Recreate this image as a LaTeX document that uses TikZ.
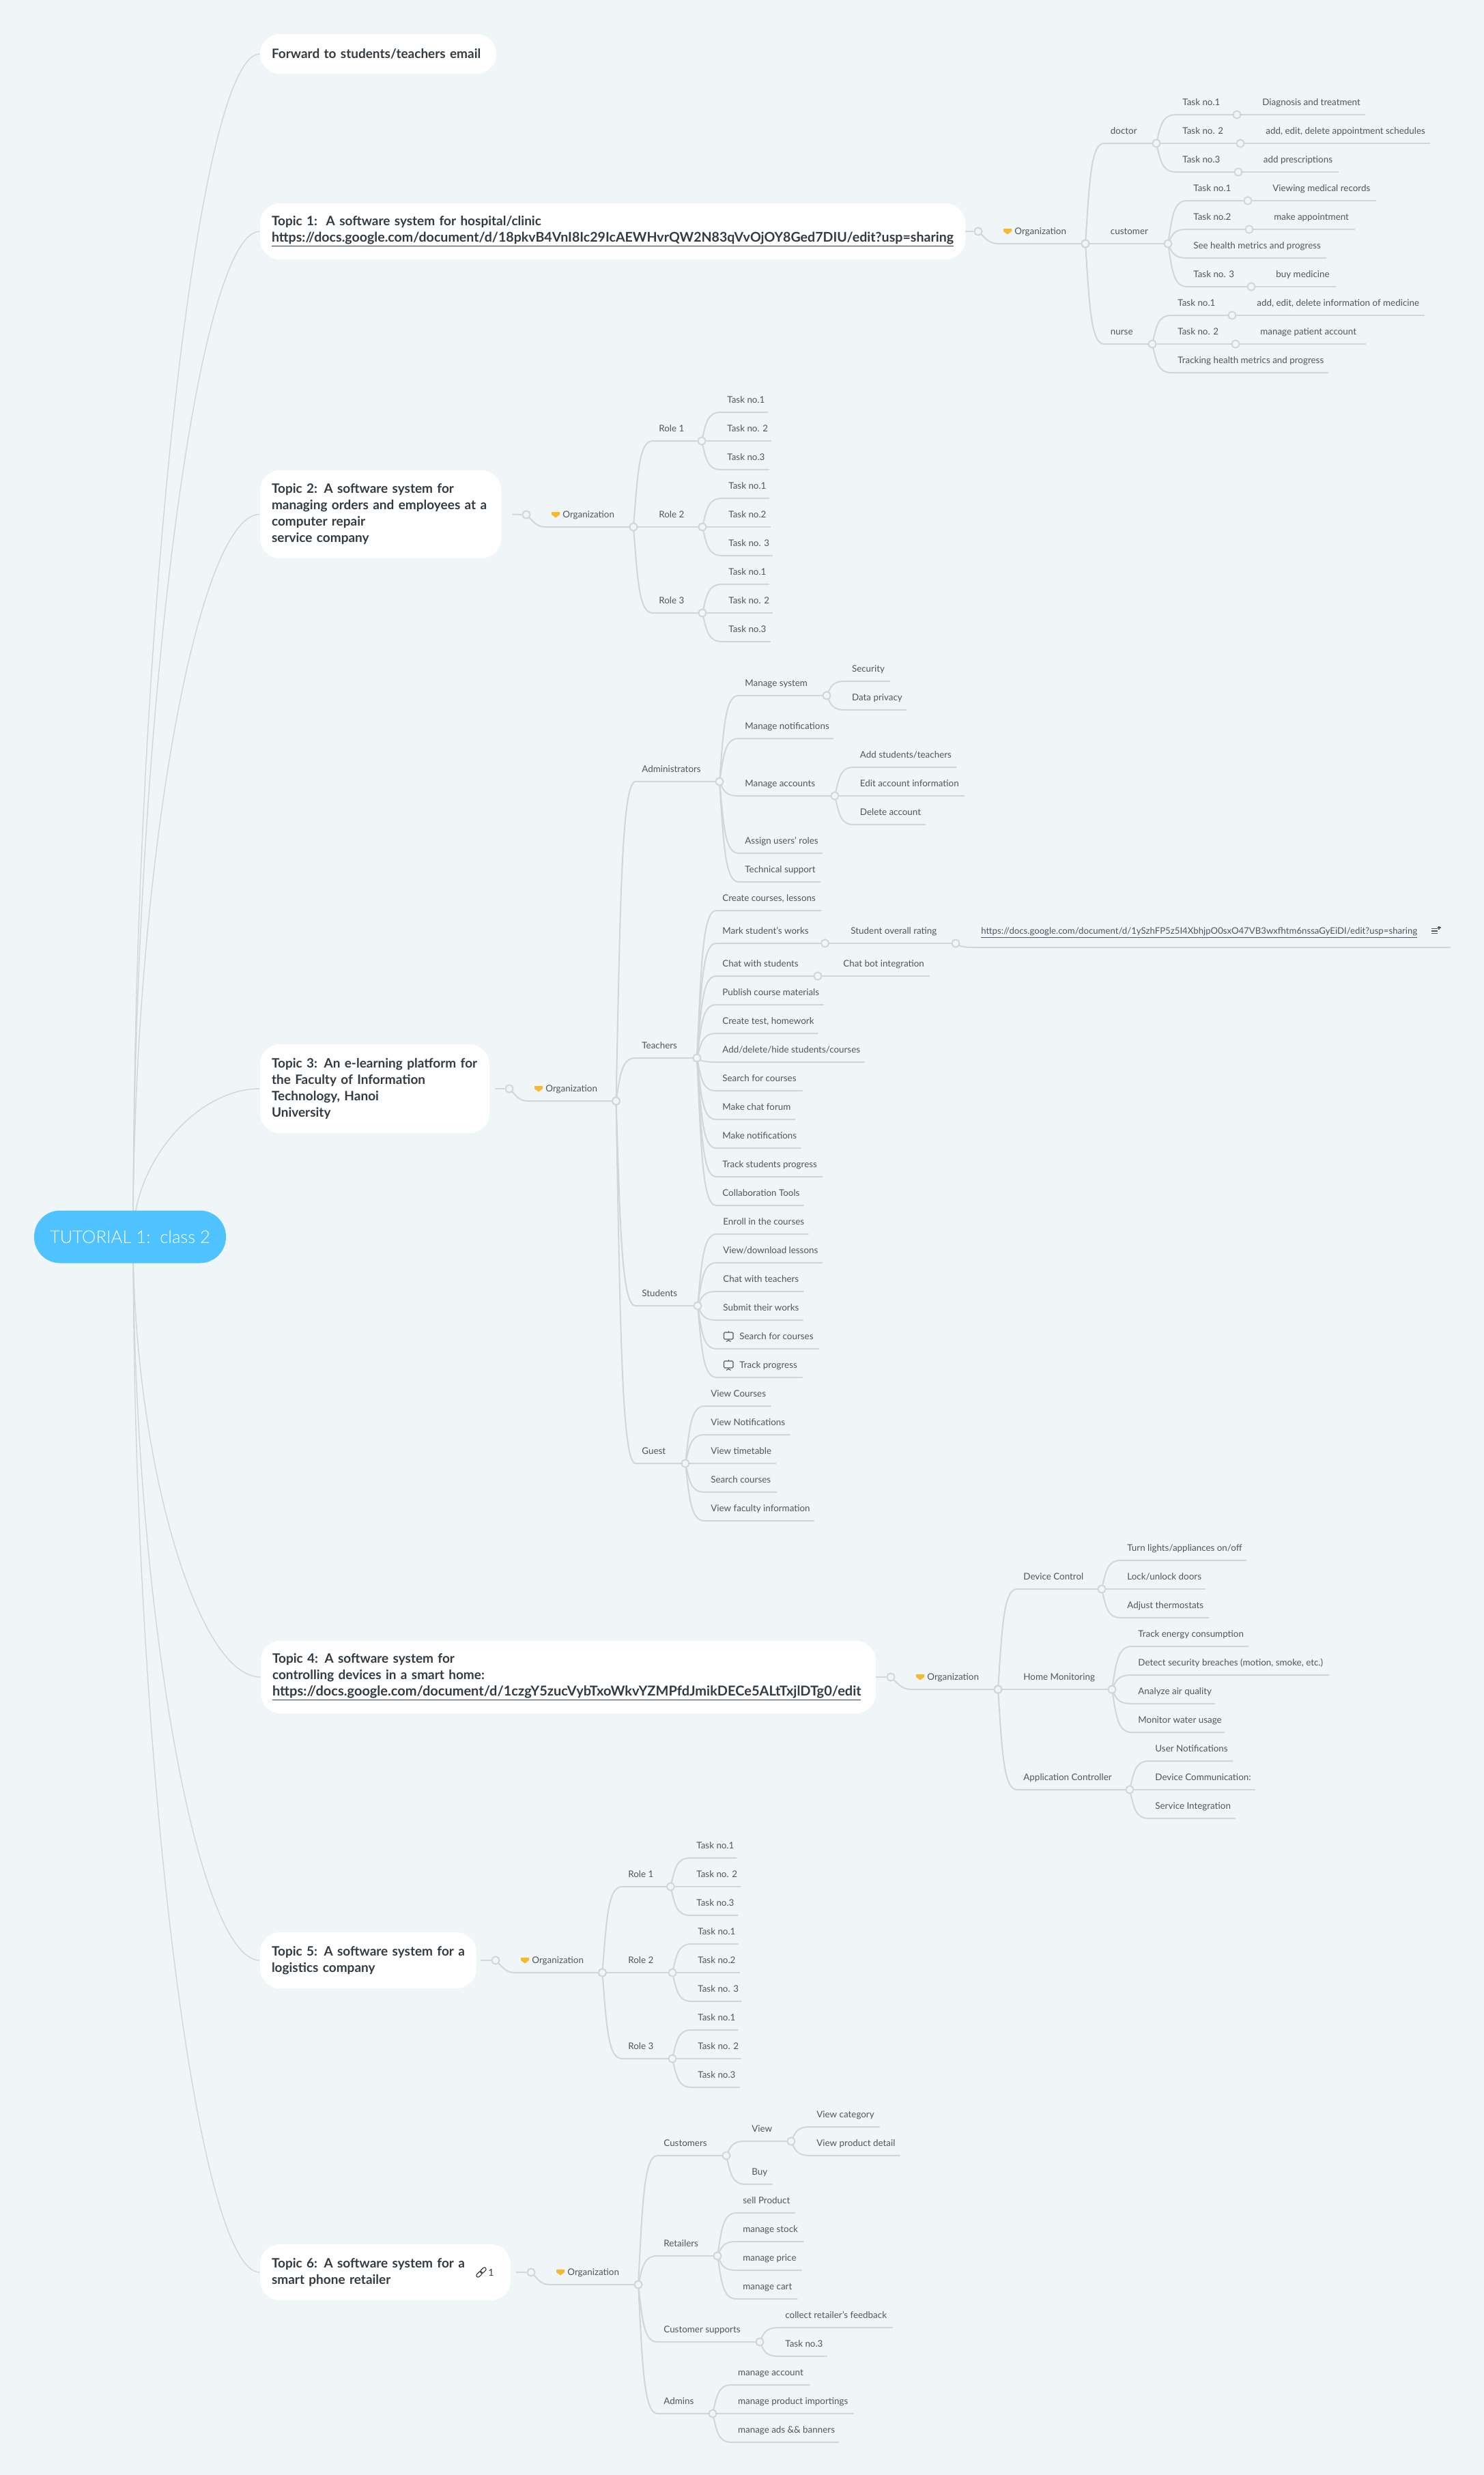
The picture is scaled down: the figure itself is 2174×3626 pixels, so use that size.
\documentclass[tikz,border=0pt]{standalone}
\usepackage{fontspec}
\setmainfont{Lato}
\newfontfamily\rootfont{Lato Light}
\usetikzlibrary{calc,backgrounds}

\definecolor{pagebg}{HTML}{F0F5F8}
\definecolor{linegray}{HTML}{D2D6D9}
\definecolor{inkgray}{HTML}{4F565C}
\definecolor{inkdark}{HTML}{333B42}
\definecolor{rootblue}{HTML}{4FC3FF}
\definecolor{medalgold}{HTML}{F6B92F}

\tikzset{
	link/.style={draw=linegray,line width=1pt},
	spoke/.style={draw=linegray,line width=.7pt},
	knob/.style={circle,draw=linegray,fill=pagebg,line width=1pt,minimum size=5.6pt,inner sep=0pt},
	itemtext/.style={inner sep=0pt,text=inkgray,font=\fontsize{6.7}{8}\selectfont},
	topicbox/.style={fill=white,rounded corners=14.5pt,inner xsep=8.5pt,inner ysep=0pt,align=left,text=inkdark,font=\fontsize{9.5}{12}\bfseries\selectfont},
	rootbox/.style={fill=rootblue,rounded corners=19pt,text=white,inner sep=0pt,font=\fontsize{12.8}{16}\rootfont\selectfont},
	icon/.style={draw=inkgray,line width=.55pt}
}

% one row: text, line under it, curve up to the knob of its parent
\newcommand{\branch}[7][14]{%
	\node[itemtext,anchor=base west] (#2) at (#4,#5-#1) {#7};
	\coordinate (#2-s) at (#4-9,#5);
	\coordinate (#2-e) at (#6,#5);
	\begin{scope}[on background layer]
		\draw[link] (#3-k.center) .. controls ($(#3-k.center)!.6!(#3-k.center |- #2-s)+(6,0)$) and ($(#3-k.center |- #2-s)!.28!(#2-s)$) .. (#2-s) -- (#2-e);
	\end{scope}}
% same row, with a knob at the end of its line
\newcommand{\hub}[7][14]{%
	\branch[#1]{#2}{#3}{#4}{#5}{#6}{#7}
	\node[knob] (#2-k) at (#2-e) {};}
% small gold mark in front of Organization
\newcommand{\medal}[2]{%
	\fill[medalgold] (#1-6,#2-4) -- (#1+6,#2-4) -- (#1+6,#2) -- (#1,#2+4.5) -- (#1-6,#2) -- cycle;}
% Organization row: name, topic, gap, knob x, line start x, hub x, line y
\newcommand{\orgrow}[7]{%
	\node[knob] (#2-k) at (#4,#7-18) {};
	\begin{scope}[on background layer]
		\draw[link] ($(#2.east)+(#3,0)$) -- (#2-k);
		\coordinate (#1-s) at (#5,#7);
		\node[knob] (#1-k) at (#6,#7) {};
		\draw[link] (#2-k.center) .. controls ($(#2-k.center)+(9,8)$) and ($(#1-s)+(-14,0)$) .. (#1-s) -- (#1-k.center);
	\end{scope}
	\node[knob] (#1-k) at (#6,#7) {};
	\medal{#4+43}{#7-18}
	\node[itemtext,anchor=base west] (#1) at (#4+53,#7-14) {Organization};}
% little screen in front of a row
\newcommand{\screen}[2]{%
	\draw[icon,rounded corners=.7pt] (#1,#2-24) rectangle (#1+13.5,#2-14);
	\draw[icon] (#1+6.7,#2-24) -- (#1+6.7,#2-26);
	\draw[icon] (#1+3.5,#2-10.5) -- (#1+6.7,#2-12.5) -- (#1+10,#2-10.5);}

\begin{document}
\begin{tikzpicture}[x=0.5pt,y=-0.5pt]
	\useasboundingbox (0,0) rectangle (2174,3626);
	\begin{scope}[on background layer]
		\fill[pagebg] (0,0) rectangle (2174,3626);
	\end{scope}

	% Root and topics
	\node[rootbox,minimum width=140.5pt,minimum height=38.5pt] (root) at (190.5,1812) {TUTORIAL 1:\ \ class 2};
	\coordinate (rootc) at (195,1812);
	\node[topicbox,text width=156pt,minimum height=29pt] (t0) at (554,79) {Forward to students/teachers email};
	\node[topicbox,text width=499.5pt,minimum height=41pt] (t1) at (897.5,339) {Topic 1:\ \ A software system for hospital/clinic\\\fontsize{9.8}{12}\selectfont\underline{https://docs.google.com/document/d/18pkvB4VnI8Ic29IcAEWHvrQW2N83qVvOjOY8Ged7DIU/edit?usp=sharing}};
	\node[topicbox,text width=159.5pt,minimum height=64.5pt] (t2) at (557.5,753.5) {Topic 2: A software system for\\managing orders and employees at a\\computer repair\\service company};
	\node[topicbox,text width=151pt,minimum height=65pt] (t3) at (549,1595) {Topic 3: An e-learning platform for\\the Faculty of Information\\Technology, Hanoi\\University};
	\node[topicbox,text width=433.5pt,minimum height=53pt] (t4) at (832.5,2457) {Topic 4: A software system for\\controlling devices in a smart home:\\\fontsize{10}{12}\selectfont\underline{https://docs.google.com/document/d/1czgY5zucVybTxoWkvYZMPfdJmikDECe5ALtTxjlDTg0/edit}};
	\node[topicbox,text width=141.5pt,minimum height=41pt] (t5) at (539.5,2872) {Topic 5: A software system for a\\logistics company};
	\node[topicbox,text width=166.5pt,minimum height=41pt] (t6) at (564.5,3329) {Topic 6: A software system for a\\smart phone retailer};

	\foreach \t in {t0,t1,t2,t3,t4,t5,t6}{
		\coordinate (m) at ($(rootc)!.5!(\t.west)$);
		\begin{scope}[on background layer]
			\draw[spoke] (rootc) .. controls (rootc |- m) and (m |- \t.west) .. (\t.west);
		\end{scope}
	}

	% Topic 1
	\orgrow{org1}{t1}{0}{1433}{1462}{1590}{357}
	\hub{doc}{org1}{1626.5}{210}{1694}{doctor}
	\hub{doca}{doc}{1732}{168}{1812}{Task no.1}
	\branch{docaa}{doca}{1849}{168}{2000}{Diagnosis and treatment}
	\hub{docb}{doc}{1732}{210}{1817}{Task no. 2}
	\branch{docba}{docb}{1854}{210}{2095}{add, edit, delete appointment schedules}
	\hub{docc}{doc}{1732}{252}{1814}{Task no.3}
	\branch{docca}{docc}{1850.5}{252}{1961}{add prescriptions}
	\hub{cus}{org1}{1626.5}{357}{1711}{customer}
	\hub{cusa}{cus}{1748}{294}{1828}{Task no.1}
	\branch{cusaa}{cusa}{1864}{294}{2016}{Viewing medical records}
	\hub{cusb}{cus}{1748}{336}{1830}{Task no.2}
	\branch{cusba}{cusb}{1866}{336}{1985}{make appointment}
	\branch{cusc}{cus}{1748}{378}{1943}{See health metrics and progress}
	\hub{cusd}{cus}{1748}{420}{1833}{Task no. 3}
	\branch{cusda}{cusd}{1869}{420}{1957}{buy medicine}
	\hub{nur}{org1}{1626.5}{504}{1688}{nurse}
	\hub{nura}{nur}{1725}{462}{1805}{Task no.1}
	\branch{nuraa}{nura}{1841}{462}{2087}{add, edit, delete information of medicine}
	\hub{nurb}{nur}{1725}{504}{1810}{Task no. 2}
	\branch{nurba}{nurb}{1846}{504}{2001}{manage patient account}
	\branch{nurc}{nur}{1725}{546}{1946}{Tracking health metrics and progress}

	% Topic 2
	\orgrow{org2}{t2}{16}{771}{799}{928}{772}
	\hub{roa}{org2}{965}{646}{1028}{Role 1}
	\branch{roaa}{roa}{1065}{604}{1125}{Task no.1}
	\branch{roab}{roa}{1065}{646}{1130}{Task no. 2}
	\branch{roac}{roa}{1065}{688}{1127}{Task no.3}
	\hub{rob}{org2}{965}{772}{1029}{Role 2}
	\branch{roba}{rob}{1067}{730}{1127}{Task no.1}
	\branch{robb}{rob}{1067}{772}{1129}{Task no.2}
	\branch{robc}{rob}{1067}{814}{1131.5}{Task no. 3}
	\hub{roc}{org2}{965}{898}{1029}{Role 3}
	\branch{roca}{roc}{1067}{856}{1127}{Task no.1}
	\branch{rocb}{roc}{1067}{898}{1131.5}{Task no. 2}
	\branch{rocc}{roc}{1067}{940}{1129}{Task no.3}

	% Topic 3
	\orgrow{org3}{t3}{7.5}{746}{773}{902.5}{1613}
	\hub{adm}{org3}{940}{1145}{1054}{Administrators}
	\hub{adma}{adm}{1091}{1019}{1211}{Manage system}
	\branch{admaa}{adma}{1247.6}{998}{1304}{Security}
	\branch{admab}{adma}{1247.6}{1040}{1328}{Data privacy}
	\branch{admb}{adm}{1091}{1082}{1221}{Manage notifications}
	\hub{admc}{adm}{1091}{1166}{1223}{Manage accounts}
	\branch{admca}{admc}{1259.5}{1124}{1401.4}{Add students/teachers}
	\branch{admcb}{admc}{1259.5}{1166}{1412.6}{Edit account information}
	\branch{admcc}{admc}{1259.5}{1208}{1356}{Delete account}
	\branch{admd}{adm}{1091}{1250}{1205}{Assign users' roles}
	\branch{adme}{adm}{1091}{1292}{1202}{Technical support}
	\hub{tea}{org3}{940}{1550}{1021}{Teachers}
	\branch{teaa}{tea}{1058}{1334}{1203}{Create courses, lessons}
	\hub{teab}{tea}{1058}{1382}{1208.5}{Mark student's works}
	\hub{teaba}{teab}{1246}{1382}{1400}{Student overall rating}
	\branch[20]{teabb}{teaba}{1437}{1388}{2124.5}{\fontsize{6.6}{8}\selectfont\underline{https://docs.google.com/document/d/1ySzhFP5z5I4XbhjpO0sxO47VB3wxfhtm6nssaGyEiDI/edit?usp=sharing}}
	\draw[icon] (2097,1360.5) -- (2106,1360.5) (2097,1364) -- (2106,1364) (2097,1367.5) -- (2106,1367.5) (2108,1356.5) -- (2108,1361.5) (2105.5,1359) -- (2110.5,1359);
	\hub{teac}{tea}{1058}{1430}{1198}{Chat with students}
	\branch{teaca}{teac}{1235}{1430}{1361.6}{Chat bot integration}
	\branch{tead}{tea}{1058}{1472}{1206.7}{Publish course materials}
	\branch{teae}{tea}{1058}{1514}{1198.7}{Create test, homework}
	\branch{teaf}{tea}{1058}{1556}{1266.7}{Add/delete/hide students/courses}
	\branch{teag}{tea}{1058}{1598}{1175.7}{Search for courses}
	\branch{teah}{tea}{1058}{1640}{1165}{Make chat forum}
	\branch{teai}{tea}{1058}{1682}{1173.7}{Make notifications}
	\branch{teaj}{tea}{1058}{1724}{1205.7}{Track students progress}
	\branch{teak}{tea}{1058}{1766}{1177.7}{Collaboration Tools}
	\hub{stu}{org3}{940}{1913}{1022}{Students}
	\branch{stua}{stu}{1059}{1808}{1184.7}{Enroll in the courses}
	\branch{stub}{stu}{1059}{1850}{1204.7}{View/download lessons}
	\branch{stuc}{stu}{1059}{1892}{1177.7}{Chat with teachers}
	\branch{stud}{stu}{1059}{1934}{1176.7}{Submit their works}
	\branch{stue}{stu}{1059}{1976}{1200}{\hspace*{12pt}Search for courses}
	\screen{1060.5}{1976}
	\branch{stuf}{stu}{1059}{2018}{1175.7}{\hspace*{12pt}Track progress}
	\screen{1060.5}{2018}
	\hub{gue}{org3}{940}{2144}{1004}{Guest}
	\branch{guea}{gue}{1041}{2060}{1129.7}{View Courses}
	\branch{gueb}{gue}{1041}{2102}{1157.7}{View Notifications}
	\branch{guec}{gue}{1041}{2144}{1136.7}{View timetable}
	\branch{gued}{gue}{1041}{2186}{1138.7}{Search courses}
	\branch{guee}{gue}{1041}{2228}{1192.7}{View faculty information}

	% Topic 4
	\orgrow{org4}{t4}{0}{1305}{1334.5}{1462}{2475}
	\hub{dev}{org4}{1499}{2328}{1614}{Device Control}
	\branch{deva}{dev}{1651}{2286}{1826}{Turn lights/appliances on/off}
	\branch{devb}{dev}{1651}{2328}{1766}{Lock/unlock doors}
	\branch{devc}{dev}{1651}{2370}{1771}{Adjust thermostats}
	\hub{hom}{org4}{1499}{2475}{1629}{Home Monitoring}
	\branch{homa}{hom}{1667}{2412}{1829}{Track energy consumption}
	\branch{homb}{hom}{1667}{2454}{1947}{Detect security breaches (motion, smoke, etc.)}
	\branch{homc}{hom}{1667}{2496}{1780}{Analyze air quality}
	\branch{homd}{hom}{1667}{2538}{1794}{Monitor water usage}
	\hub{app}{org4}{1499}{2622}{1655}{Application Controller}
	\branch{appa}{app}{1692}{2580}{1806}{User Notifications}
	\branch{appb}{app}{1692}{2622}{1838.6}{Device Communication:}
	\branch{appc}{app}{1692}{2664}{1810}{Service Integration}

	% Topic 5
	\orgrow{org5}{t5}{6}{726}{754}{882.4}{2890}
	\hub{rea}{org5}{920}{2764}{982.4}{Role 1}
	\branch{reaa}{rea}{1020}{2722}{1079.4}{Task no.1}
	\branch{reab}{rea}{1020}{2764}{1084.5}{Task no. 2}
	\branch{reac}{rea}{1020}{2806}{1081.4}{Task no.3}
	\hub{reb}{org5}{920}{2890}{985}{Role 2}
	\branch{reba}{reb}{1022}{2848}{1081.4}{Task no.1}
	\branch{rebb}{reb}{1022}{2890}{1083.5}{Task no.2}
	\branch{rebc}{reb}{1022}{2932}{1086.5}{Task no. 3}
	\hub{rec}{org5}{920}{3016}{985}{Role 3}
	\branch{reca}{rec}{1022}{2974}{1081.4}{Task no.1}
	\branch{recb}{rec}{1022}{3016}{1086}{Task no. 2}
	\branch{recc}{rec}{1022}{3058}{1083.5}{Task no.3}

	% Topic 6
	\orgrow{org6}{t6}{8}{778}{805}{935}{3347}
	\draw[inkdark,line width=.55pt,rotate around={45:(705,3329)},rounded corners=1.2pt] (696,3326.5) rectangle (706,3331.5) (704,3326.5) rectangle (714,3331.5);
	\node[inner sep=0pt,text=inkdark,font=\fontsize{7}{8}\selectfont] (t6n) at (719.5,3329) {1};
	\hub{cst}{org6}{972}{3158}{1064}{Customers}
	\hub{csta}{cst}{1101}{3137}{1159}{View}
	\branch{cstaa}{csta}{1196}{3116}{1288.7}{View category}
	\branch{cstab}{csta}{1196}{3158}{1318.7}{View product detail}
	\branch{cstb}{cst}{1101}{3200}{1131.7}{Buy}
	\hub{ret}{org6}{972}{3305}{1051}{Retailers}
	\branch{reta}{ret}{1088}{3242}{1164.7}{sell Product}
	\branch{retb}{ret}{1088}{3284}{1177.7}{manage stock}
	\branch{retc}{ret}{1088}{3326}{1174.7}{manage price}
	\branch{retd}{ret}{1088}{3368}{1168.7}{manage cart}
	\hub{sup}{org6}{972}{3431}{1113}{Customer supports}
	\branch{supa}{sup}{1150}{3410}{1307.7}{collect retailer's feedback}
	\branch{supb}{sup}{1150}{3452}{1211.7}{Task no.3}
	\hub{ads}{org6}{972}{3536}{1044}{Admins}
	\branch{adsa}{ads}{1080.7}{3494}{1186.7}{manage account}
	\branch{adsb}{ads}{1080.7}{3536}{1250.7}{manage product importings}
	\branch{adsc}{ads}{1080.7}{3578}{1228.7}{manage ads \&\& banners}
\end{tikzpicture}
\end{document}
